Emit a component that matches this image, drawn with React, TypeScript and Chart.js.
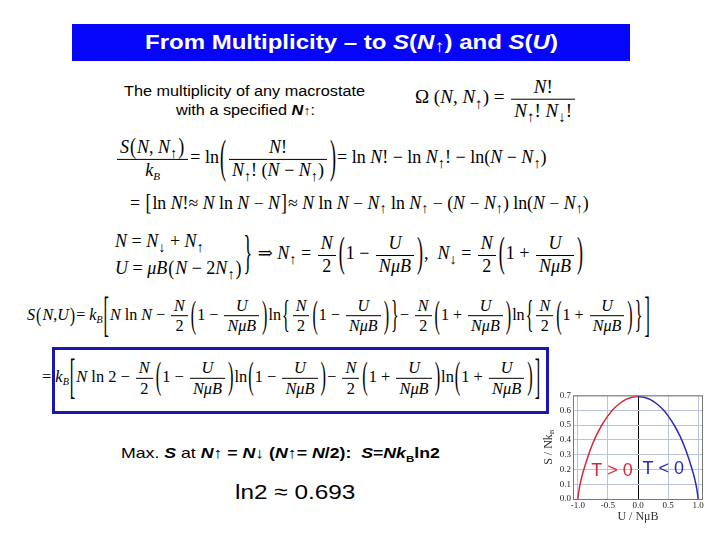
import React, { useEffect, useRef } from "react";
import { Chart, registerables } from "chart.js";

Chart.register(...registerables);

// ---- chart data ----
const uNeg = [-1.0, -0.98, -0.95, -0.9, -0.8, -0.7, -0.6, -0.5, -0.4, -0.3, -0.2, -0.1, 0.0];
const sNeg = [0.0, 0.06, 0.122, 0.199, 0.325, 0.423, 0.5, 0.562, 0.611, 0.647, 0.673, 0.688, 0.693];
const uPos = [0.0, 0.1, 0.2, 0.3, 0.4, 0.5, 0.6, 0.7, 0.8, 0.9, 0.95, 0.98, 1.0];
const sPos = [0.693, 0.688, 0.673, 0.647, 0.611, 0.562, 0.5, 0.423, 0.325, 0.199, 0.122, 0.06, 0.0];
const xTicks = [-1.0, -0.5, 0.0, 0.5, 1.0];
const yTicks = [0.0, 0.1, 0.2, 0.3, 0.4, 0.5, 0.6, 0.7];
const regionLabels = ["T > 0", "T < 0"];
const regionColors = ["#d8283c", "#2a2ab8"];
const labelU = [-0.43, 0.42];
const labelS = [0.19, 0.2];

const serif = '"Liberation Serif", "Times New Roman", "DejaVu Serif", serif';
const sans = '"Liberation Sans", Arial, "DejaVu Sans", sans-serif';

// ---- tiny math helpers ----
const I = ({ c }: { c: any }) => <span style={{ fontStyle: "italic" }}>{c}</span>;
const Sub = ({ c, it = false, s = 0.62 }: { c: any; it?: boolean; s?: number }) => (
  <span style={{ fontSize: `${s}em`, verticalAlign: "-0.35em", fontStyle: it ? "italic" : "normal", lineHeight: 0 }}>{c}</span>
);
const Nu = () => (<><I c="N" /><Sub c="↑" s={0.8} /></>);
const Nd = () => (<><I c="N" /><Sub c="↓" s={0.8} /></>);
const kB = () => (<><I c="k" /><Sub c="B" it /></>);
const Frac = ({ n, d }: { n: any; d: any }) => (
  <span style={{ display: "inline-flex", flexDirection: "column", alignItems: "center", verticalAlign: "middle", margin: "0 2px", lineHeight: 1.2 }}>
    <span style={{ padding: "0 3px" }}>{n}</span>
    <span style={{ borderTop: "1px solid #000", padding: "0 3px", alignSelf: "stretch", textAlign: "center" }}>{d}</span>
  </span>
);
const Big = ({ c, s = 2 }: { c: string; s?: number }) => (
  <span style={{ display: "inline-block", transform: `scaleY(${s})`, margin: "0 1px", fontWeight: 300 }}>{c}</span>
);
const UoN = () => <Frac n={<I c="U" />} d={<><I c="N" /><I c="μB" /></>} />;
const Half = () => <Frac n={<I c="N" />} d="2" />;

const Row = ({ x, y, size = 18, children }: any) => (
  <div style={{ position: "absolute", left: x, top: y, transform: "translateY(-50%)", whiteSpace: "nowrap", fontFamily: serif, fontSize: size, color: "#000", lineHeight: "normal" }}>
    {children}
  </div>
);

const Wide = ({ children, k = 1.18 }: any) => (
  <span style={{ display: "inline-block", transform: `scaleX(${k})`, transformOrigin: "left center" }}>{children}</span>
);

function EntropyChart() {
  const ref = useRef<HTMLCanvasElement | null>(null);
  useEffect(() => {
    if (!ref.current) return;
    const decor = {
      id: "decor",
      afterDatasetsDraw(chart: any) {
        const { ctx, chartArea: a, scales } = chart;
        const xs = scales.x, ys = scales.y;
        ctx.save();
        ctx.strokeStyle = "#777";
        ctx.lineWidth = 1;
        ctx.strokeRect(a.left + 0.5, a.top + 0.5, a.width - 1, a.height);
        ctx.font = `18px ${sans}`;
        ctx.textAlign = "center";
        ctx.textBaseline = "middle";
        regionLabels.forEach((t, i) => {
          ctx.fillStyle = regionColors[i];
          ctx.fillText(t, xs.getPixelForValue(labelU[i]), ys.getPixelForValue(labelS[i]));
        });
        // rotated y title S / Nk_B
        const cy = (a.top + a.bottom) / 2;
        ctx.translate(9, cy);
        ctx.rotate(-Math.PI / 2);
        ctx.fillStyle = "#333";
        ctx.textAlign = "left";
        ctx.font = `12px ${serif}`;
        const main = "S / Nk";
        const w1 = ctx.measureText(main).width;
        ctx.font = `7px ${serif}`;
        const w2 = ctx.measureText("B").width;
        const x0 = -(w1 + w2) / 2;
        ctx.font = `12px ${serif}`;
        ctx.fillText(main, x0, 0);
        ctx.font = `7px ${serif}`;
        ctx.fillText("B", x0 + w1, 3);
        ctx.restore();
      },
    };
    const chart = new Chart(ref.current, {
      type: "line",
      data: {
        datasets: [
          {
            data: uNeg.map((u, i) => ({ x: u, y: sNeg[i] })),
            borderColor: "#d8283c",
            borderWidth: 1.5,
            pointRadius: 0,
            cubicInterpolationMode: "monotone",
          },
          {
            data: uPos.map((u, i) => ({ x: u, y: sPos[i] })),
            borderColor: "#2a2ab8",
            borderWidth: 1.5,
            pointRadius: 0,
            cubicInterpolationMode: "monotone",
          },
        ],
      },
      options: {
        animation: false,
        responsive: false,
        devicePixelRatio: 1,
        layout: { padding: { left: 0, right: 7, top: 7, bottom: 0 } },
        plugins: { legend: { display: false }, tooltip: { enabled: false } },
        scales: {
          x: {
            type: "linear",
            min: -1.08,
            max: 1.08,
            afterBuildTicks: (s: any) => { s.ticks = xTicks.map((v) => ({ value: v })); },
            afterFit: (s: any) => { s.height = 25; },
            ticks: { callback: (v: any) => Number(v).toFixed(1), font: { family: serif, size: 9 }, color: "#222", padding: 1, maxRotation: 0 },
            grid: {
              color: (c: any) => (c.tick && c.tick.value === 0 ? "#000" : "#b9c3dc"),
              drawTicks: false,
            },
            border: { display: false },
            title: { display: true, text: "U / NμB", font: { family: serif, size: 12 }, color: "#333", padding: 0 },
          },
          y: {
            type: "linear",
            min: 0,
            max: 0.7,
            afterBuildTicks: (s: any) => { s.ticks = yTicks.map((v) => ({ value: v })); },
            afterFit: (s: any) => { s.width = 33; },
            ticks: { callback: (v: any) => Number(v).toFixed(1), font: { family: serif, size: 9 }, color: "#222", padding: 2 },
            grid: { color: "#b9c3dc", drawTicks: false },
            border: { display: false },
          },
        },
      },
      plugins: [decor],
    } as any);
    return () => chart.destroy();
  }, []);
  return (
    <canvas ref={ref} width={170} height={136} style={{ position: "absolute", left: 540, top: 388, width: 170, height: 136 }} />
  );
}

export default function App() {
  return (
    <div style={{ position: "absolute", left: 0, top: 0, width: 720, height: 540, background: "#fff", overflow: "hidden" }}>
      {/* title bar */}
      <div style={{ position: "absolute", left: 72, top: 24, width: 558, height: 37, background: "#0505fa" }} />
      <div style={{ position: "absolute", left: 145, top: 44, transform: "translateY(-50%)", color: "#fff", fontFamily: sans, fontWeight: "bold", fontSize: 20, whiteSpace: "nowrap" }}>
        <Wide k={1.2}>From Multiplicity – to <i>S</i>(<i>N</i><span style={{ fontSize: "0.85em", verticalAlign: "-0.15em" }}>↑</span>) and <i>S</i>(<i>U</i>)</Wide>
      </div>

      {/* intro text */}
      <div style={{ position: "absolute", left: 124, top: 82, whiteSpace: "nowrap", fontFamily: sans, fontSize: 14, lineHeight: "19px", color: "#000" }}>
        <Wide k={1.16}>The multiplicity of any macrostate</Wide>
      </div>
      <div style={{ position: "absolute", left: 176, top: 101, whiteSpace: "nowrap", fontFamily: sans, fontSize: 14, lineHeight: "19px", color: "#000" }}>
        <Wide k={1.16}>with a specified <b><i>N</i><span style={{ fontSize: "0.9em" }}>↑</span></b>:</Wide>
      </div>

      <Row x={415} y={99} size={19}>
        Ω (<I c="N" />, <Nu />) = <Frac n={<><I c="N" />!</>} d={<><Nu />! <Nd />!</>} />
      </Row>

      {/* line 1 */}
      <Row x={115} y={159} size={18}>
        <Frac n={<><I c="S" /><Big c="(" s={1.3} /><I c="N" />, <Nu /><Big c=")" s={1.3} /></>} d={kB()} />
        = ln<Big c="(" s={2.6} /><Frac n={<><I c="N" />!</>} d={<><Nu />! (<I c="N" /> − <Nu />)</>} /><Big c=")" s={2.6} />
        = ln <I c="N" />! − ln <Nu />! − ln(<I c="N" /> − <Nu />)
      </Row>

      {/* line 2 */}
      <Row x={130} y={203} size={17.8}>
        = <Big c="[" s={1.3} />ln <I c="N" />!≈ <I c="N" /> ln <I c="N" /> − <I c="N" /><Big c="]" s={1.3} />≈ <I c="N" /> ln <I c="N" /> − <Nu /> ln <Nu /> − (<I c="N" /> − <Nu />) ln(<I c="N" /> − <Nu />)
      </Row>

      {/* line 3 */}
      <Row x={115} y={255} size={18}>
        <span style={{ display: "inline-flex", flexDirection: "column", verticalAlign: "middle", lineHeight: "27px" }}>
          <span><I c="N" /> = <Nd /> + <Nu /></span>
          <span><I c="U" /> = <I c="μB" /><Big c="(" s={1.2} /><I c="N" /> − 2<Nu /><Big c=")" s={1.2} /></span>
        </span>
        <Big c="}" s={2.6} />&nbsp;⇒ <Nu /> = <Half /><Big c="(" s={2.3} />1 − <UoN /><Big c=")" s={2.3} />,&nbsp; <Nd /> = <Half /><Big c="(" s={2.3} />1 + <UoN /><Big c=")" s={2.3} />
      </Row>

      {/* line 4 */}
      <Row x={27} y={316} size={16.1}>
        <I c="S" /><Big c="(" s={1.3} /><I c="N" />,<I c="U" /><Big c=")" s={1.3} />= {kB()}<Big c="[" s={3} />
        <I c="N" /> ln <I c="N" /> − <Half /><Big c="(" s={2.3} />1 − <UoN /><Big c=")" s={2.3} />ln<Big c="{" s={2.3} /><Half /><Big c="(" s={2.3} />1 − <UoN /><Big c=")" s={2.3} /><Big c="}" s={2.3} />
        − <Half /><Big c="(" s={2.3} />1 + <UoN /><Big c=")" s={2.3} />ln<Big c="{" s={2.3} /><Half /><Big c="(" s={2.3} />1 + <UoN /><Big c=")" s={2.3} /><Big c="}" s={2.3} /><Big c="]" s={3} />
      </Row>

      {/* boxed result */}
      <div style={{ position: "absolute", left: 52, top: 347, width: 497, height: 67, border: "3px solid #1818b0", boxSizing: "border-box" }} />
      <Row x={42} y={378} size={16.4}>
        = {kB()}<Big c="[" s={3} /><I c="N" /> ln 2 − <Half /><Big c="(" s={2.3} />1 − <UoN /><Big c=")" s={2.3} />ln<Big c="(" s={2.3} />1 − <UoN /><Big c=")" s={2.3} />
        − <Half /><Big c="(" s={2.3} />1 + <UoN /><Big c=")" s={2.3} />ln<Big c="(" s={2.3} />1 + <UoN /><Big c=")" s={2.3} /><Big c="]" s={3} />
      </Row>

      {/* conclusions */}
      <div style={{ position: "absolute", left: 121, top: 444, whiteSpace: "nowrap", fontFamily: sans, fontSize: 15, color: "#000" }}>
        <Wide k={1.18}>Max. <b><i>S</i></b> at <b><i>N</i>↑ = <i>N</i>↓ (<i>N</i>↑= <i>N</i>/2):&nbsp; <i>S</i>=<i>Nk</i><sub style={{ fontSize: "0.65em" }}>B</sub>ln2</b></Wide>
      </div>
      <div style={{ position: "absolute", left: 235, top: 480, whiteSpace: "nowrap", fontFamily: sans, fontSize: 21, color: "#000" }}>
        <Wide k={1.16}>ln2 ≈ 0.693</Wide>
      </div>

      <EntropyChart />
    </div>
  );
}
